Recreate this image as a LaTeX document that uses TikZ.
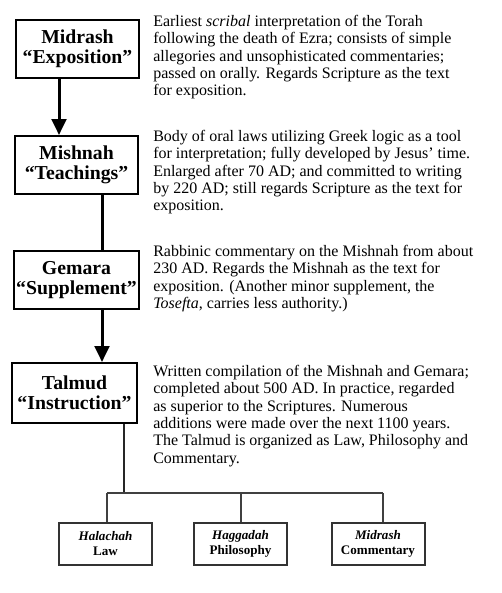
\documentclass[tikz,border=0pt]{standalone}
\usepackage{fontspec}
\setmainfont{Liberation Serif}
\usetikzlibrary{arrows.meta}
\begin{document}
\begin{tikzpicture}[x=0.75pt,y=-0.75pt,
  mainbox/.style={draw=black,line width=1.5pt,inner sep=0pt,minimum width=92pt,minimum height=43.5pt,align=center,
    font=\fontsize{14.8pt}{15pt}\selectfont\bfseries},
  subbox/.style={draw=black!80,line width=1.5pt,inner sep=0pt,minimum width=69.75pt,minimum height=31.5pt,align=center,
    font=\fontsize{9.8pt}{11.25pt}\selectfont\bfseries},
  desc/.style={anchor=north west,inner sep=0pt,align=left,font=\fontsize{12pt}{13pt}\selectfont},
  arr/.style={line width=2.25pt,-{Triangle[length=12pt,width=11pt]}},
  thick line/.style={line width=2.25pt},
  treeline/.style={draw=black!75,line width=1.5pt}
]
\useasboundingbox[fill=white] (0,0) rectangle (502,593);

\node[mainbox] (mid) at (77.5,48.5) {Midrash\\“Exposition”};
\node[mainbox] (mish) at (76.5,165) {Mishnah\\“Teachings”};
\node[mainbox,minimum width=94pt] (gem) at (76.5,280) {Gemara\\“Supplement”};
\node[mainbox,minimum width=94pt,minimum height=45pt] (tal) at (74.5,393) {Talmud\\“Instruction”};

\node[desc] (dmid) at (153,15) {Earliest \textit{scribal} interpretation of the Torah\\following the death of Ezra; consists of simple\\allegories and unsophisticated commentaries;\\passed on orally. Regards Scripture as the text\\for exposition.};
\node[desc] (dmish) at (153,130) {Body of oral laws utilizing Greek logic as a tool\\for interpretation; fully developed by Jesus’ time.\\Enlarged after 70 AD; and committed to writing\\by 220 AD; still regards Scripture as the text for\\exposition.};
\node[desc] (dgem) at (153,245) {Rabbinic commentary on the Mishnah from about\\230 AD. Regards the Mishnah as the text for\\exposition. (Another minor supplement, the\\\textit{Tosefta}, carries less authority.)};
\node[desc] (dtal) at (153,365) {Written compilation of the Mishnah and Gemara;\\completed about 500 AD. In practice, regarded\\as superior to the Scriptures. Numerous\\additions were made over the next 1100 years.\\The Talmud is organized as Law, Philosophy and\\Commentary.};

\node[subbox] (hal) at (105.5,544) {\textit{Halachah}\\Law};
\node[subbox] (hag) at (240.5,544) {\textit{Haggadah}\\Philosophy};
\node[subbox] (mcom) at (378,544) {\textit{Midrash}\\Commentary};

\coordinate (c1) at (59,0);
\coordinate (c2) at (102,0);
\coordinate (tj) at (124,493);
\coordinate (hl) at (107,493);
\coordinate (hm) at (241,493);
\coordinate (hr) at (383,493);

\draw[arr] (mid.south -| c1) -- (mish.north -| c1);
\draw[thick line] (mish.south -| c2) -- (gem.north -| c2);
\draw[arr] (gem.south -| c2) -- (tal.north -| c2);

\draw[draw=black!85,line width=1pt] (tal.south -| tj) -- (tj);
\draw[treeline] (hl) -- (hr);
\draw[treeline] (hl) -- (hal.north -| hl);
\draw[treeline] (hm) -- (hag.north -| hm);
\draw[treeline] (hr) -- (mcom.north -| hr);
\end{tikzpicture}
\end{document}
